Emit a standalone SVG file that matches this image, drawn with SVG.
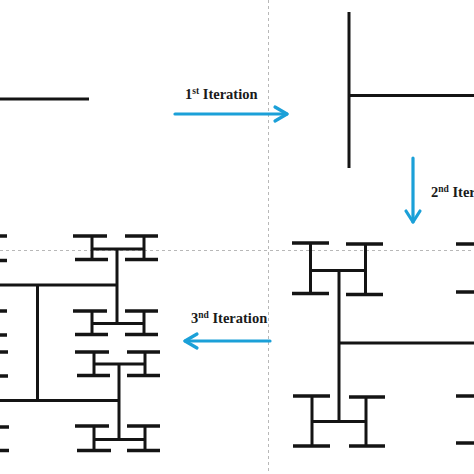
<svg xmlns="http://www.w3.org/2000/svg" width="474" height="474" viewBox="0 0 474 474">
<style>
.bg{fill:#ffffff}
.grid{stroke:#b8b8b8;stroke-width:1;stroke-dasharray:3,3;fill:none}
.ln{stroke:#141414;stroke-width:3;fill:none;stroke-linecap:butt}
.cap{stroke:#141414;stroke-width:3.5;fill:none;stroke-linecap:butt}
.arr{stroke:#1ba0d8;stroke-width:3.2;fill:none;stroke-linecap:round;stroke-linejoin:round}
.lbl{font-family:"Liberation Serif","Times New Roman",serif;font-weight:bold;font-size:14.5px;fill:#1a1a1a}
.sup{font-size:9.5px}
</style>
<rect class="bg" x="0" y="0" width="474" height="474"/>
<g id="grid">
<line class="grid" x1="268.5" y1="0" x2="268.5" y2="474"/>
<line class="grid" x1="0" y1="250.5" x2="474" y2="250.5"/>
</g>
<g id="iter0">
<line class="ln" x1="0" y1="99" x2="89" y2="99"/>
</g>
<g id="iter1">
<line class="ln" x1="349" y1="12" x2="349" y2="168"/>
<line class="ln" x1="349" y1="95.5" x2="474" y2="95.5"/>
</g>
<g id="iter2">
<line class="ln" x1="339" y1="343" x2="474" y2="343"/>
<line class="ln" x1="339" y1="270" x2="339" y2="420"/>
<line class="ln" x1="310" y1="270.5" x2="366" y2="270.5"/>
<line class="ln" x1="310.5" y1="243" x2="310.5" y2="294"/>
<line class="ln" x1="365.5" y1="244" x2="365.5" y2="296"/>
<line class="cap" x1="292" y1="243" x2="329" y2="243"/>
<line class="cap" x1="346" y1="244" x2="383" y2="244"/>
<line class="cap" x1="292" y1="293.5" x2="329" y2="293.5"/>
<line class="cap" x1="346" y1="294.5" x2="383" y2="294.5"/>
<line class="ln" x1="312" y1="421.5" x2="366" y2="421.5"/>
<line class="ln" x1="312" y1="396" x2="312" y2="446"/>
<line class="ln" x1="366" y1="397" x2="366" y2="446"/>
<line class="cap" x1="293" y1="396" x2="330" y2="396"/>
<line class="cap" x1="349" y1="397" x2="385" y2="397"/>
<line class="cap" x1="293" y1="446" x2="330" y2="446"/>
<line class="cap" x1="349" y1="446" x2="385" y2="446"/>
<line class="cap" x1="456" y1="244" x2="474" y2="244"/>
<line class="cap" x1="456" y1="292" x2="474" y2="292"/>
<line class="cap" x1="456" y1="396" x2="474" y2="396"/>
<line class="cap" x1="456" y1="443" x2="474" y2="443"/>
</g>
<g id="iter3">
<line class="ln" x1="0" y1="285" x2="118" y2="285"/>
<line class="ln" x1="0" y1="400.5" x2="120" y2="400.5"/>
<line class="ln" x1="37.5" y1="285" x2="37.5" y2="401"/>
<line class="ln" x1="117" y1="249" x2="117" y2="323"/>
<line class="ln" x1="119" y1="364" x2="119" y2="440"/>
<line class="ln" x1="92" y1="249" x2="144" y2="249"/>
<line class="ln" x1="92" y1="236" x2="92" y2="260"/>
<line class="ln" x1="144" y1="236" x2="144" y2="260"/>
<line class="cap" x1="73" y1="236" x2="107" y2="236"/>
<line class="cap" x1="125" y1="236" x2="158" y2="236"/>
<line class="cap" x1="75" y1="259.5" x2="108" y2="259.5"/>
<line class="cap" x1="125" y1="259.5" x2="158" y2="259.5"/>
<line class="ln" x1="92" y1="323.5" x2="144" y2="323.5"/>
<line class="ln" x1="92" y1="311" x2="92" y2="335"/>
<line class="ln" x1="144" y1="311" x2="144" y2="335"/>
<line class="cap" x1="73" y1="311" x2="107" y2="311"/>
<line class="cap" x1="125" y1="311" x2="158" y2="311"/>
<line class="cap" x1="75" y1="334.5" x2="108" y2="334.5"/>
<line class="cap" x1="125" y1="334.5" x2="158" y2="334.5"/>
<line class="ln" x1="94" y1="364" x2="144" y2="364"/>
<line class="ln" x1="94" y1="352" x2="94" y2="376"/>
<line class="ln" x1="145" y1="352" x2="145" y2="376"/>
<line class="cap" x1="75" y1="352" x2="109" y2="352"/>
<line class="cap" x1="127" y1="352" x2="160" y2="352"/>
<line class="cap" x1="77" y1="375.5" x2="110" y2="375.5"/>
<line class="cap" x1="127" y1="375.5" x2="160" y2="375.5"/>
<line class="ln" x1="94" y1="439.5" x2="145" y2="439.5"/>
<line class="ln" x1="94" y1="426" x2="94" y2="451"/>
<line class="ln" x1="145" y1="426" x2="145" y2="451"/>
<line class="cap" x1="75" y1="426" x2="109" y2="426"/>
<line class="cap" x1="127" y1="426" x2="160" y2="426"/>
<line class="cap" x1="77" y1="450.5" x2="111" y2="450.5"/>
<line class="cap" x1="127" y1="450.5" x2="160" y2="450.5"/>
<line class="cap" x1="0" y1="236" x2="7" y2="236"/>
<line class="cap" x1="0" y1="260.5" x2="7" y2="260.5"/>
<line class="cap" x1="0" y1="311" x2="7" y2="311"/>
<line class="cap" x1="0" y1="335" x2="7" y2="335"/>
<line class="cap" x1="0" y1="352" x2="8" y2="352"/>
<line class="cap" x1="0" y1="376" x2="8" y2="376"/>
<line class="cap" x1="0" y1="427" x2="9" y2="427"/>
<line class="cap" x1="0" y1="450.5" x2="9" y2="450.5"/>
</g>
<g id="connectors">
<g id="arrow1">
<line class="arr" x1="175" y1="114" x2="287" y2="114"/>
<polyline class="arr" points="275,107 287,114 275,121"/>
</g>
<g id="arrow2">
<line class="arr" x1="413" y1="158" x2="413" y2="222"/>
<polyline class="arr" points="406,211 413,222 420,211"/>
</g>
<g id="arrow3">
<line class="arr" x1="270" y1="341" x2="185" y2="341"/>
<polyline class="arr" points="197,334 185,341 197,348"/>
</g>
</g>
<g id="labels">
<text class="lbl" x="185" y="99">1<tspan class="sup" dy="-5">st</tspan><tspan dy="5"> Iteration</tspan></text>
<text class="lbl" x="431" y="197">2<tspan class="sup" dy="-5">nd</tspan><tspan dy="5"> Iteration</tspan></text>
<text class="lbl" x="191" y="323">3<tspan class="sup" dy="-5">nd</tspan><tspan dy="5"> Iteration</tspan></text>
</g>
</svg>
